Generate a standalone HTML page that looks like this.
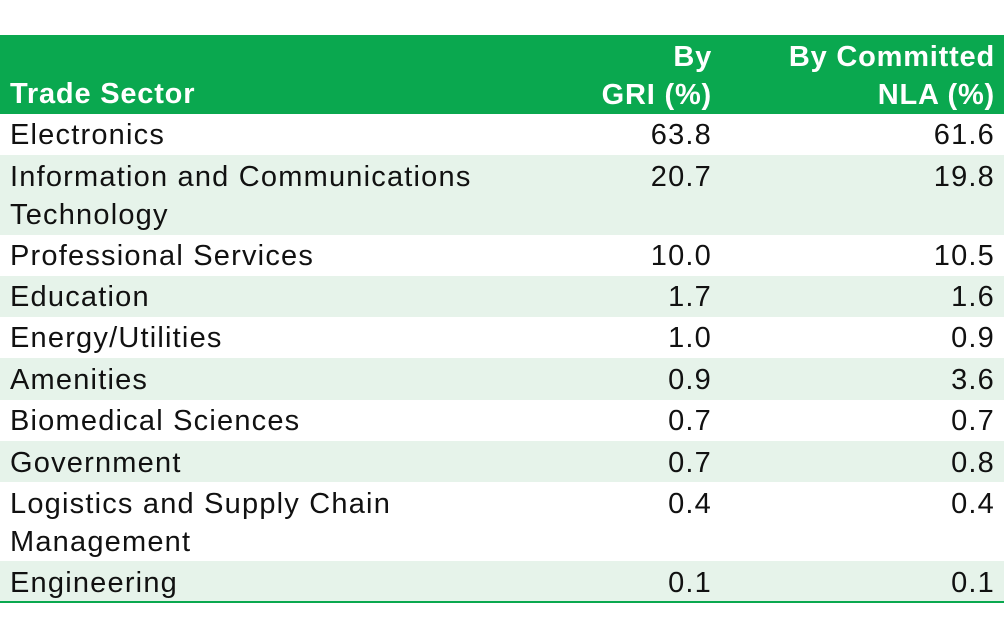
<!DOCTYPE html>
<html><head><style>
body{margin:0;width:1004px;height:620px;background:#fff;position:relative;overflow:hidden;font-family:"Liberation Sans",sans-serif;font-size:29px;letter-spacing:1.2px;color:#111;}
.r{position:absolute;left:0;width:1004px;}
.g{background:#e6f3ea;}
.t{position:absolute;left:10px;line-height:38px;white-space:nowrap;}
.a{position:absolute;right:292px;line-height:38px;text-align:right;white-space:nowrap;}
.b{position:absolute;right:9px;line-height:38px;text-align:right;white-space:nowrap;}
.h{position:absolute;top:35px;left:0;width:1004px;height:79px;background:#0aa84f;color:#fff;font-weight:bold;letter-spacing:0.8px;}
</style></head><body>
<div class="h">
<div class="t" style="top:40px">Trade Sector</div>
<div class="a" style="top:3px">By<br>GRI (%)</div>
<div class="b" style="top:3px">By Committed<br>NLA (%)</div>
</div>
<div class="r" style="top:114px;height:41px"><div class="t" style="top:2px">Electronics</div><div class="a" style="top:2px">63.8</div><div class="b" style="top:2px">61.6</div></div>
<div class="r g" style="top:155px;height:80px"><div class="t" style="top:3px">Information and Communications<br>Technology</div><div class="a" style="top:3px">20.7</div><div class="b" style="top:3px">19.8</div></div>
<div class="r" style="top:235px;height:41px"><div class="t" style="top:2px">Professional Services</div><div class="a" style="top:2px">10.0</div><div class="b" style="top:2px">10.5</div></div>
<div class="r g" style="top:276px;height:41px"><div class="t" style="top:2px">Education</div><div class="a" style="top:2px">1.7</div><div class="b" style="top:2px">1.6</div></div>
<div class="r" style="top:317px;height:41px"><div class="t" style="top:2px">Energy/Utilities</div><div class="a" style="top:2px">1.0</div><div class="b" style="top:2px">0.9</div></div>
<div class="r g" style="top:358px;height:42px"><div class="t" style="top:3px">Amenities</div><div class="a" style="top:3px">0.9</div><div class="b" style="top:3px">3.6</div></div>
<div class="r" style="top:400px;height:41px"><div class="t" style="top:2px">Biomedical Sciences</div><div class="a" style="top:2px">0.7</div><div class="b" style="top:2px">0.7</div></div>
<div class="r g" style="top:441px;height:41px"><div class="t" style="top:3px">Government</div><div class="a" style="top:3px">0.7</div><div class="b" style="top:3px">0.8</div></div>
<div class="r" style="top:482px;height:79px"><div class="t" style="top:3px">Logistics and Supply Chain<br>Management</div><div class="a" style="top:3px">0.4</div><div class="b" style="top:3px">0.4</div></div>
<div class="r g" style="top:561px;height:40px"><div class="t" style="top:3px">Engineering</div><div class="a" style="top:3px">0.1</div><div class="b" style="top:3px">0.1</div></div>
<div class="r" style="top:601px;height:2px;background:#0aa84f"></div>
</body></html>
